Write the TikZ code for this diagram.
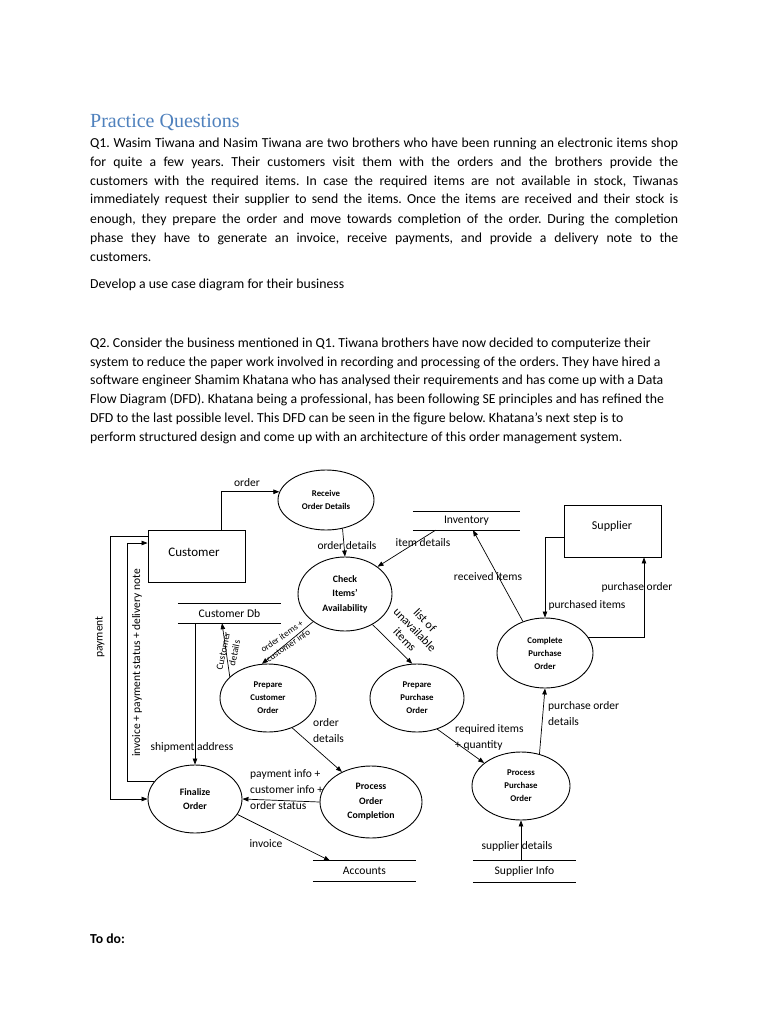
\documentclass[tikz,border=0pt]{standalone}
\usepackage{fontspec}
\setmainfont{Carlito}
\newfontfamily\titlefont{Liberation Serif}
\usetikzlibrary{shapes.geometric,arrows.meta}
\definecolor{titleblue}{HTML}{4F81BD}
\newcommand\justline[1]{\makebox[588pt][s]{#1}}
\frenchspacing
\begin{document}
\begin{tikzpicture}[x=1pt,y=-1pt,
  body/.style={anchor=base west,inner sep=0pt,font=\fontsize{13.75}{19}\selectfont},
  proc/.style={ellipse,draw,line width=0.9pt,inner sep=0pt,align=center,font=\bfseries\fontsize{8.8}{13}\selectfont},
  bigproc/.style={proc,font=\bfseries\fontsize{9.8}{14.5}\selectfont},
  ent/.style={rectangle,draw,line width=0.9pt,inner sep=0pt},
  store/.style={rectangle,inner sep=0pt,font=\fontsize{11.6}{14}\selectfont},
  storeline/.style={line width=0.9pt},
  flow/.style={line width=0.7pt,-{Triangle[length=6pt,width=4.5pt]}},
  lab/.style={inner sep=0pt,font=\fontsize{11.5}{16}\selectfont},
  blab/.style={lab,anchor=base},
]
\useasboundingbox[fill=white] (0,0) rectangle (768,1024);

% ---------- text ----------
\node[anchor=base west,inner sep=0pt,font=\titlefont\fontsize{20}{24}\selectfont,text=titleblue] (title) at (90,128) {Practice Questions};
\node[body] (q1a) at (90,148) {\justline{Q1. Wasim Tiwana and Nasim Tiwana are two brothers who have been running an electronic items shop}};
\node[body] (q1b) at (90,167) {\justline{for quite a few years. Their customers visit them with the orders and the brothers provide the}};
\node[body] (q1c) at (90,186) {\justline{customers with the required items. In case the required items are not available in stock, Tiwanas}};
\node[body] (q1d) at (90,204) {\justline{immediately request their supplier to send the items. Once the items are received and their stock is}};
\node[body] (q1e) at (90,223) {\justline{enough, they prepare the order and move towards completion of the order. During the completion}};
\node[body] (q1f) at (90,242) {\justline{phase they have to generate an invoice, receive payments, and provide a delivery note to the}};
\node[body] (q1g) at (90,261) {customers.};
\node[body] (dev) at (90,288) {Develop a use case diagram for their business};

\node[body] (q2a) at (90,347) {Q2. Consider the business mentioned in Q1. Tiwana brothers have now decided to computerize their};
\node[body] (q2b) at (90,366) {system to reduce the paper work involved in recording and processing of the orders. They have hired a};
\node[body] (q2c) at (90,384) {software engineer Shamim Khatana who has analysed their requirements and has come up with a Data};
\node[body] (q2d) at (90,403) {Flow Diagram (DFD). Khatana being a professional, has been following SE principles and has refined the};
\node[body] (q2e) at (90,422) {DFD to the last possible level. This DFD can be seen in the figure below. Khatana’s next step is to};
\node[body] (q2f) at (90,441) {perform structured design and come up with an architecture of this order management system.};

\node[body,font=\bfseries\fontsize{13.75}{19}\selectfont] (todo) at (90,943) {To do:};

% ---------- entities ----------
\node[ent,minimum width=97pt,minimum height=52pt] (cust) at (196.5,556) {};
\node[inner sep=0pt,font=\fontsize{13}{15}\selectfont] (custtxt) at (194,552) {Customer};
\node[ent,minimum width=97pt,minimum height=52pt] (supplier) at (612.5,531) {};
\node[inner sep=0pt,font=\fontsize{12}{14}\selectfont] (suptxt) at (612,526) {Supplier};

% ---------- stores ----------
\node[store,minimum width=107pt,minimum height=18pt] (inv) at (466.5,521) {Inventory};
\node[store,minimum width=103pt,minimum height=19pt] (custdb) at (229.5,613.5) {Customer Db};
\node[store,minimum width=103pt,minimum height=20pt] (accounts) at (364.5,871) {Accounts};
\node[store,minimum width=103pt,minimum height=21pt] (sinfo) at (524.5,871.5) {Supplier Info};
\foreach \s in {inv,custdb,accounts,sinfo}{
  \draw[storeline] (\s.north west) -- (\s.north east) (\s.south west) -- (\s.south east);
}

% ---------- processes ----------
\node[proc,minimum width=96pt,minimum height=60pt] (recv) at (326,500) {Receive\\Order Details};
\node[bigproc,minimum width=94pt,minimum height=74pt] (check) at (345,594) {Check\\Items’\\Availability};
\node[proc,minimum width=96pt,minimum height=68pt] (prepc) at (268,698) {Prepare\\Customer\\Order};
\node[proc,minimum width=94pt,minimum height=68pt] (prepp) at (417,698) {Prepare\\Purchase\\Order};
\node[proc,minimum width=96pt,minimum height=70pt] (compl) at (545,653) {Complete\\Purchase\\Order};
\node[bigproc,minimum width=102pt,minimum height=72pt] (procOC) at (371,802) {Process\\Order\\Completion};
\node[proc,minimum width=98pt,minimum height=68pt] (procPO) at (521,786) {Process\\Purchase\\Order};
\node[bigproc,minimum width=94pt,minimum height=68pt] (final) at (195,799) {Finalize\\Order};

% ---------- flows ----------
\draw[flow] ([xshift=24.5pt]cust.north) |- (recv.170);
\node[blab] (lorder) at (247,486) {order};

\draw[flow] (recv.-60) -- (check.north);
\node[blab] (lod) at (347,549) {order details};

\draw[flow] ([xshift=-31pt]inv.south) -- (check.40);
\node[blab] (lid) at (423,546) {item details};

\draw[flow] (check.-139) -- (prepc.100);
\node[lab,align=center,rotate=34,font=\fontsize{9}{11}\selectfont] (loi) at (285,641) {order items +\\customer info};

\draw[flow] (prepc.151) -- ([xshift=-7.5pt]custdb.south);
\node[lab,align=center,rotate=78,font=\fontsize{9.7}{11.5}\selectfont] (lcd) at (229,652) {Customer\\details};

\draw[flow] (check.-48) -- (prepp.98);
\node[lab,align=center,rotate=-46,font=\fontsize{12}{14}\selectfont] (lun) at (415,630) {list of\\unavailable\\items};

\draw[flow] (prepc.-51) -- (procOC.134);
\node[lab,align=left,anchor=west] (lod2) at (313,731) {order\\details};

\draw[flow] (procOC.west) -- (final.east);
\node[lab,align=left,anchor=west] (lpay) at (250,790) {payment info +\\customer info +\\order status};

\draw[flow] (final.-20) -- ([xshift=-34.5pt]accounts.north);
\node[blab] (linv) at (266,847) {invoice};

\draw[flow] (custdb.south -| final.north) -- (final.north);
\node[blab] (lship) at (192,750) {shipment address};

\draw[flow] ([yshift=-7pt]cust.north west) -- ++(-37,0) |- (final.west);
\node[lab,rotate=90] (lpayment) at (100,637) {payment};

\coordinate (c1) at (127,543);
\draw[flow] (final.157) -| (c1) -- (c1 -| cust.west);
\node[lab,rotate=90] (linvoice) at (137,663) {invoice + payment status + delivery note};

\draw[flow] ([yshift=-33pt]supplier.north west) -| (compl.north);
\node[blab] (lpi) at (587,608) {purchased items};

\draw[flow] (compl.20) -| ([xshift=31.5pt]supplier.south);
\node[blab] (lpo) at (637,590) {purchase order};

\draw[flow] (compl.125) -- ([xshift=6.5pt]inv.south);
\node[blab] (lri) at (488,580) {received items};

\draw[flow] (procPO.60) -- (compl.south);
\node[lab,align=left,anchor=west] (lpod) at (548,714) {purchase order\\details};

\draw[flow] (prepp.-57) -- (procPO.148);
\node[lab,align=left,anchor=west] (lrq) at (455,737) {required items\\+ quantity};

\draw[flow] (procPO.south |- sinfo.north) -- (procPO.south);
\node[blab] (lsd) at (517,849) {supplier details};
\end{tikzpicture}
\end{document}
